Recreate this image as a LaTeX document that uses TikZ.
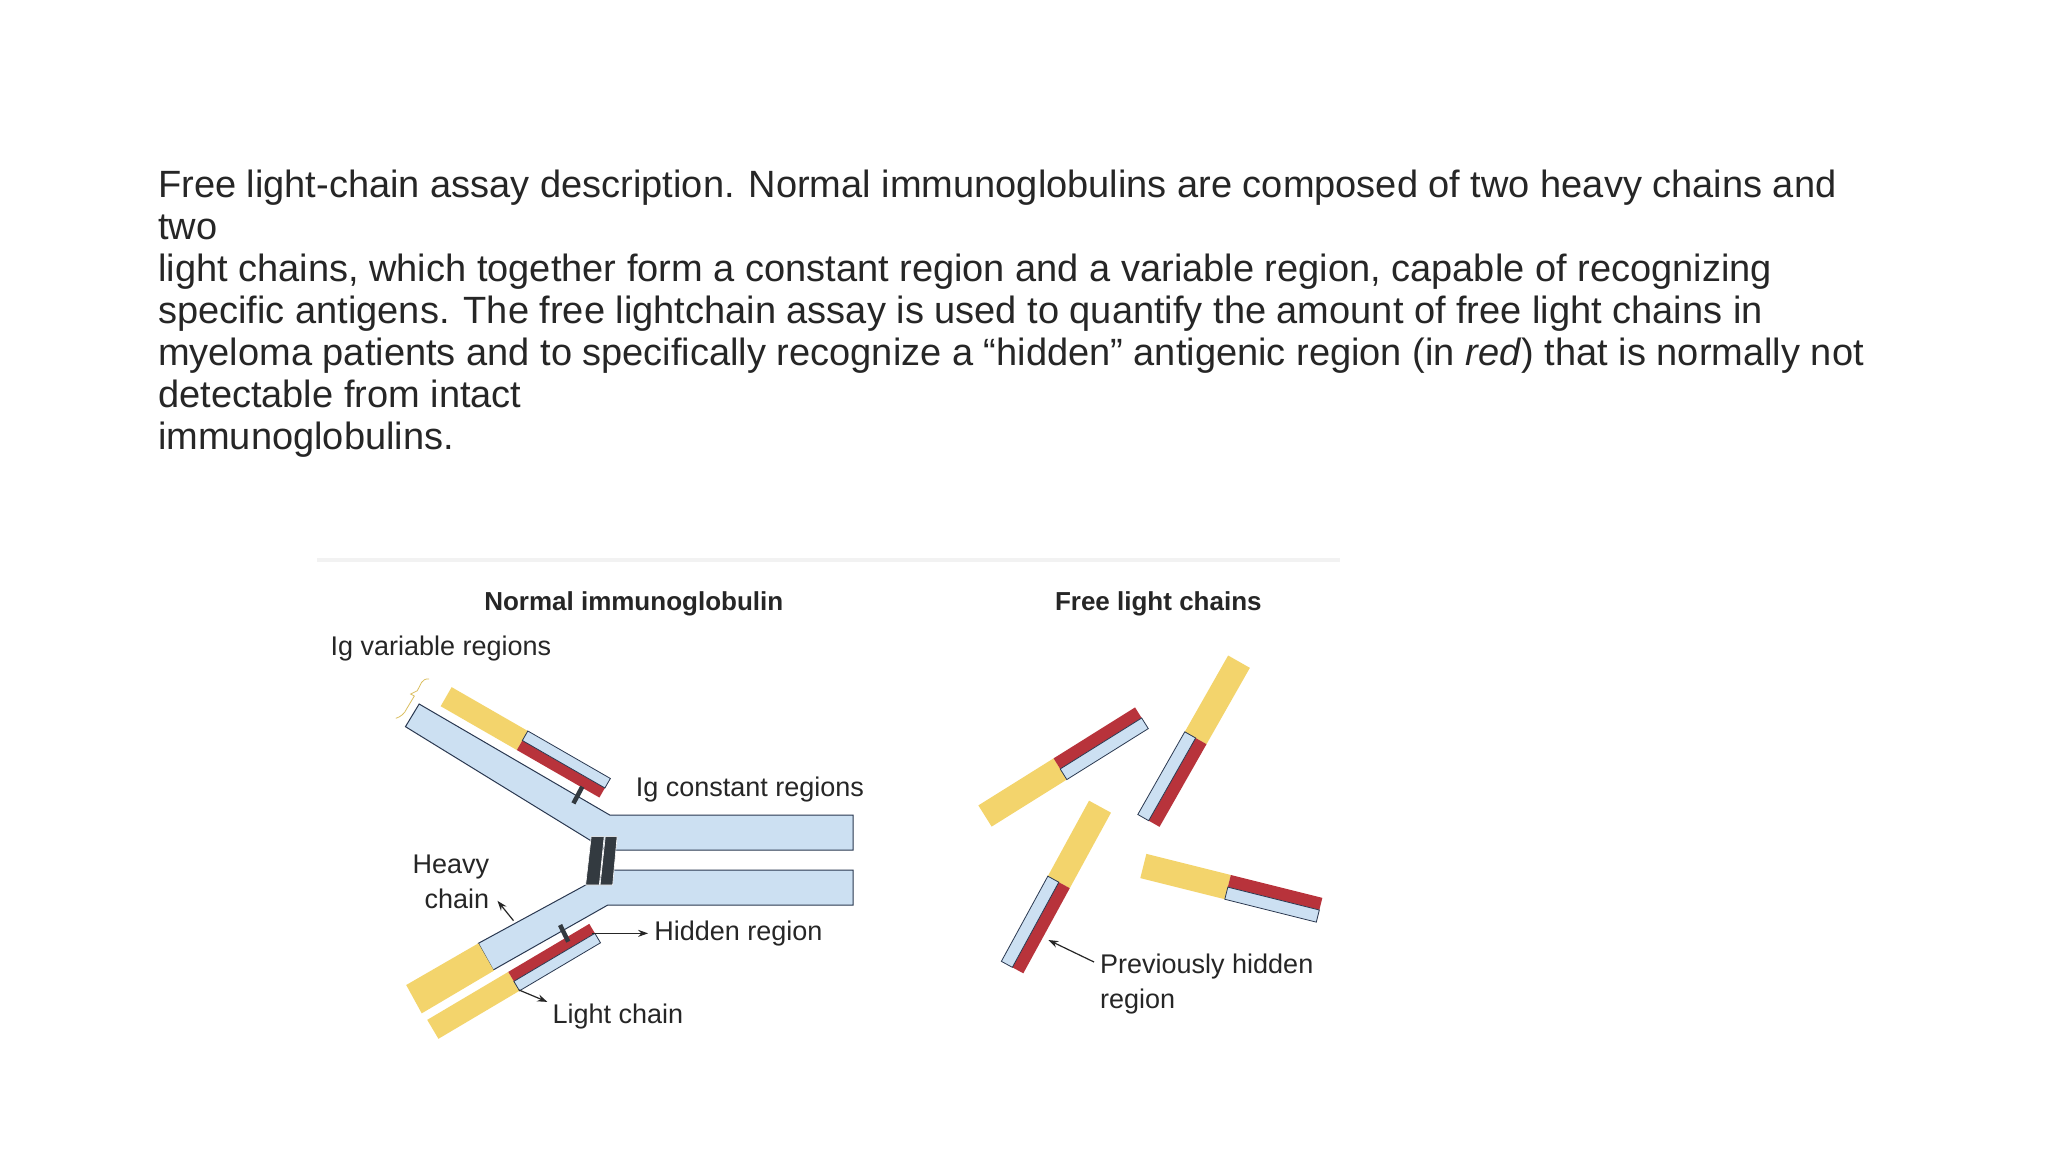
\documentclass[tikz,border=0pt]{standalone}
\usepackage{fontspec}
\setmainfont{Liberation Sans}
\usetikzlibrary{calc,arrows.meta}
\definecolor{lb}{HTML}{CCE0F2}
\definecolor{ylw}{HTML}{F3D46C}
\definecolor{rd}{HTML}{B8333B}
\definecolor{nv}{HTML}{2A3850}
\definecolor{dk}{HTML}{333A40}
\newcommand\hw{11pt}
\newcommand\fchain[5]{%
 \coordinate (m) at ($(#1)!#3!(#2)$);
 \fill[ylw] ($(#1)!\hw!#4:(#2)$) -- ($(#1)!\hw!#5:(#2)$) -- ($(m)!\hw!#5:(#2)$) -- ($(m)!\hw!#4:(#2)$) -- cycle;
 \fill[rd] ($(m)!\hw!#4:(#2)$) -- (m) -- (#2) -- ($(#2)!\hw!#5:(#1)$) -- cycle;
 \filldraw[fill=lb,draw=nv,line width=0.8pt] (m) -- ($(m)!\hw!#5:(#2)$) -- ($(#2)!\hw!#4:(#1)$) -- (#2) -- cycle;
}
\tikzset{
 para/.style={anchor=base west,inner sep=0pt,font=\fontsize{38}{42}\selectfont,text=black!85},
 lbl/.style={anchor=west,inner sep=0pt,font=\fontsize{27}{30}\selectfont,text=black!85},
 ttl/.style={inner sep=0pt,font=\bfseries\fontsize{26}{30}\selectfont,text=black!85},
 hc/.style={fill=lb,draw=nv,line width=1pt},
 arr/.style={-{Stealth[length=10pt,width=7pt]},line width=1.2pt,black!85}
}
\begin{document}
\begin{tikzpicture}[x=1pt,y=-1pt]
\useasboundingbox[fill=white] (0,0) rectangle (2048,1152);
% paragraph
\node[para] (p1) at (158,197) {Free light-chain assay description. Normal immunoglobulins are composed of two heavy chains and};
\node[para] (p2) at (158,239) {two};
\node[para] (p3) at (158,281) {light chains, which together form a constant region and a variable region, capable of recognizing};
\node[para] (p4) at (158,323) {specific antigens. The free lightchain assay is used to quantify the amount of free light chains in};
\node[para] (p5) at (158,365) {myeloma patients and to specifically recognize a “hidden” antigenic region (in \textit{red}) that is normally not};
\node[para] (p6) at (158,407) {detectable from intact};
\node[para] (p7) at (158,449) {immunoglobulins.};
% top faint line
\draw[black!5,line width=4pt] (317,560) -- (1340,560);
% ---------- normal immunoglobulin ----------
\begin{scope}[shift={(310,560)},x=0.37pt,y=-0.33333pt]
\node[ttl] (t1) at (875,130) {Normal immunoglobulin};
\node[lbl] (vr) at (55,265) {Ig variable regions};
\node[lbl] (cr) at (880,690) {Ig constant regions};
\node[lbl,align=right,anchor=east,font=\fontsize{27}{35}\selectfont] (hv) at (485,965) {Heavy\\chain};
\node[lbl] (hr) at (930,1120) {Hidden region};
\node[lbl] (lc) at (655,1370) {Light chain};
% bracket
\draw[ylw!90!black,line width=0.8pt] (322,357) .. controls (300,355) and (300,375) .. (290,392) -- (272,402) -- (282,408) -- (262,445) .. controls (255,462) and (245,470) .. (232,475);
% heavy chains
\filldraw[hc] (258,500) -- (295,432) -- (810,765) -- (1468,765) -- (1468,870) -- (800,870) -- cycle;
\filldraw[hc] (820,930) -- (1468,930) -- (1468,1035) -- (805,1035) -- (495,1230) -- (455,1150) -- (745,975) -- cycle;
\fill[ylw] (260,1275) -- (455,1150) -- (497,1232) -- (302,1360) -- cycle;
% hinge
\filldraw[fill=dk,draw=white,line width=0.6pt] (760,830) -- (795,830) -- (782,975) -- (745,975) -- cycle;
\filldraw[fill=dk,draw=white,line width=0.6pt] (798,830) -- (830,830) -- (818,975) -- (784,975) -- cycle;
% light chains
\coordinate (ua) at (368,410);
\coordinate (ub) at (797,684);
\coordinate (la) at (332,1408);
\coordinate (lb) at (770,1120);
\end{scope}
\fchain{ua}{ub}{0.48}{-90}{90}
\fchain{la}{lb}{0.5}{90}{-90}
\begin{scope}[shift={(310,560)},x=0.37pt,y=-0.33333pt]
\draw[dk,line width=4.5pt] (712,730) -- (736,680);
\draw[dk,line width=4.5pt] (676,1095) -- (698,1145);
\coordinate (ha1) at (550,1082);
\coordinate (hr1) at (762,1120);
\coordinate (lc1) at (565,1290);
\end{scope}
\draw[arr] (ha1) -- ($(hv.south east)+(8,-8)$);
\draw[arr] (hr1) -- ($(hr.west)+(-6,0)$);
\draw[arr] (lc1) -- ($(lc.north west)+(-5,-2)$);
% ---------- free light chains ----------
\renewcommand\hw{12.5pt}
\begin{scope}[shift={(880,560)},x=0.33333pt,y=-0.33333pt]
\node[ttl] (t2) at (835,130) {Free light chains};
\node[lbl,align=left,anchor=north west,font=\fontsize{27}{35}\selectfont] (ph) at (660,1182) {Previously hidden\\region};
\coordinate (a1) at (315,768); \coordinate (a2) at (785,474);
\coordinate (b1) at (1077,305); \coordinate (b2) at (806,782);
\coordinate (c1) at (660,740); \coordinate (c2) at (397,1222);
\coordinate (d1) at (790,918); \coordinate (d2) at (1318,1050);
\coordinate (pa) at (505,1140);
\end{scope}
\fchain{a1}{a2}{0.48}{90}{-90}
\fchain{b1}{b2}{0.48}{90}{-90}
\fchain{c1}{c2}{0.47}{90}{-90}
\fchain{d1}{d2}{0.48}{90}{-90}
\draw[arr,{Stealth[length=10pt,width=7pt]}-] (pa) -- ($(ph.north west)+(-6,8)$);
\end{tikzpicture}
\end{document}
